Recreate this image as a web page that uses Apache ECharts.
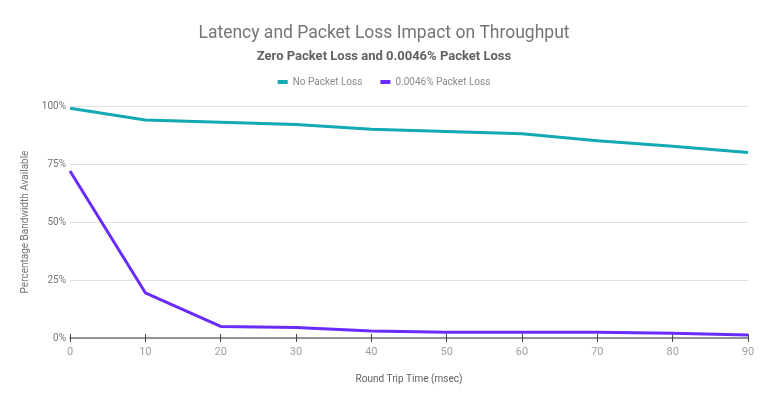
<!DOCTYPE html>
<html lang="en">
<head>
    <meta charset="UTF-8">
    <title>Latency and Packet Loss</title>
</head>
<body style="margin:0">
    <div id="chart" style="width: 768px;height: 403px"></div>

    <script src="https://cdn.jsdelivr.net/npm/echarts@6/dist/echarts.min.js"></script>
    <script>
        // round trip time (msec)
        var rtt = [0, 10, 20, 30, 40, 50, 60, 70, 80, 90];
        // percentage bandwidth available
        var noLoss = [99, 94, 93, 92, 90, 89, 88, 85, 82.7, 80];
        var someLoss = [72, 19.5, 5, 4.5, 3, 2.5, 2.5, 2.5, 2, 1.3];
        var yTicks = [0, 25, 50, 75, 100];

        var colors = ['#11a9b2', '#6a2bff'];
        var font = 'Roboto';

        function pairs(ys) {
            return rtt.map(function (x, i) { return [x, ys[i]]; });
        }

        var myChart = echarts.init(document.getElementById('chart'));

        var xBase = {
            type: 'value',
            min: 0,
            max: 90,
            interval: 10,
            splitLine: { show: false }
        };

        myChart.setOption({
            color: colors,
            title: [
                {
                    text: 'Latency and Packet Loss Impact on Throughput',
                    left: 'center',
                    top: 20,
                    textStyle: { fontFamily: font, fontSize: 17.5, fontWeight: 'normal', color: '#757575' }
                },
                {
                    text: 'Zero Packet Loss and 0.0046% Packet Loss',
                    left: 'center',
                    top: 45,
                    textStyle: { fontFamily: font, fontSize: 13, fontWeight: 'bold', color: '#616161' }
                }
            ],
            legend: {
                top: 72,
                left: 'center',
                icon: 'rect',
                itemWidth: 10,
                itemHeight: 4,
                itemGap: 18,
                textStyle: { fontFamily: font, fontSize: 10, color: '#8a8a8a' },
                data: ['No Packet Loss', '0.0046% Packet Loss']
            },
            grid: {
                left: 70,
                right: 20,
                top: 106,
                bottom: 65,
                containLabel: false
            },
            xAxis: [
                Object.assign({}, xBase, {
                    name: 'Round Trip Time (msec)',
                    nameLocation: 'middle',
                    nameGap: 36,
                    nameTextStyle: { fontFamily: font, fontSize: 10, color: '#616161' },
                    axisLine: { lineStyle: { color: '#757575', width: 1.5 } },
                    axisTick: { length: 4, lineStyle: { color: '#444' } },
                    axisLabel: { fontFamily: font, fontSize: 11, color: '#9e9e9e', margin: 9 }
                }),
                Object.assign({}, xBase, {
                    position: 'bottom',
                    axisLine: { show: false },
                    axisTick: { inside: true, length: 4, lineStyle: { color: '#444' } },
                    axisLabel: { show: false }
                })
            ],
            yAxis: {
                type: 'value',
                min: yTicks[0],
                max: yTicks[yTicks.length - 1],
                interval: 25,
                name: 'Percentage Bandwidth Available',
                nameLocation: 'middle',
                nameGap: 38,
                nameTextStyle: { fontFamily: font, fontSize: 10, color: '#757575' },
                axisLine: { show: false },
                axisTick: { show: false },
                axisLabel: {
                    fontFamily: font, fontSize: 10, color: '#757575', margin: 4,
                    formatter: '{value}%'
                },
                splitLine: { lineStyle: { color: '#e0e0e0' } }
            },
            series: [
                {
                    name: 'No Packet Loss',
                    type: 'line',
                    showSymbol: false,
                    lineStyle: { width: 3 },
                    data: pairs(noLoss)
                },
                {
                    name: '0.0046% Packet Loss',
                    type: 'line',
                    showSymbol: false,
                    lineStyle: { width: 3 },
                    data: pairs(someLoss)
                }
            ]
        });
    </script>
</body>
</html>
